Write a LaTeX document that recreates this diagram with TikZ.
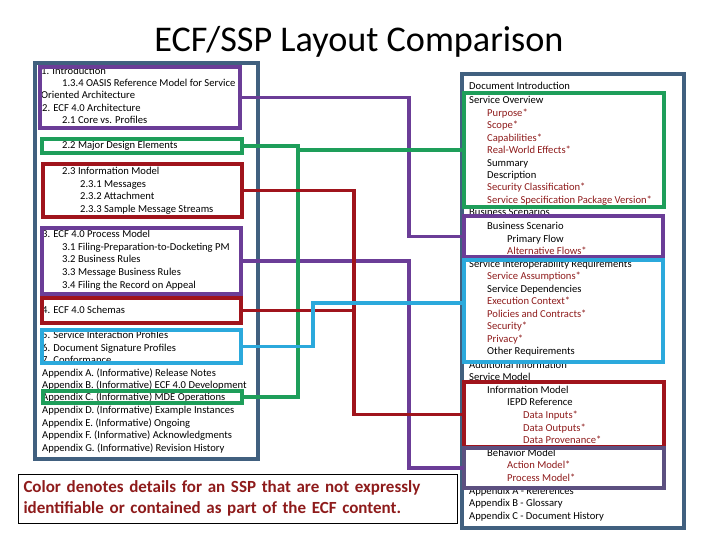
\documentclass[tikz,border=0pt]{standalone}
\usepackage{fontspec}
\setmainfont{Carlito}
\definecolor{slate}{HTML}{41607F}
\definecolor{purp}{HTML}{6B3D97}
\definecolor{grn}{HTML}{1E9E5A}
\definecolor{rd}{HTML}{A0141C}
\definecolor{cyn}{HTML}{2BA9DC}
\definecolor{behav}{HTML}{5C5080}
\definecolor{redtext}{HTML}{8E1B1B}
\tikzset{
  txt/.style={anchor=mid west, inner sep=0pt, font=\fontsize{10.6}{12}\selectfont},
  box/.style={draw=#1, line width=3.1pt, anchor=north west, inner sep=0pt, outer sep=0pt},
  conn/.style={draw=#1, line width=3.1pt},
}
\newcommand{\bx}[6]{\node[box=#2, minimum width={(#5-#3)*1pt}, minimum height={(#6-#4)*1pt}] (#1) at (#3,#4) {};}
\begin{document}
\begin{tikzpicture}[x=1pt,y=-1pt]
\useasboundingbox (0,0) rectangle (720,540);
\node[font=\fontsize{36.2}{42}\selectfont, inner sep=0pt] (title) at (359,42) {ECF/SSP Layout Comparison};
% left texts
\foreach \x/\y/\t [count=\i] in {
 41/72/{1. Introduction},
 62/84/{1.3.4 OASIS Reference Model for Service},
 41/96/{Oriented Architecture},
 42/109/{2. ECF 4.0 Architecture},
 62/121/{2.1 Core vs. Profiles},
 62/146/{2.2 Major Design Elements},
 62/172/{2.3 Information Model},
 80/185/{2.3.1 Messages},
 80/197/{2.3.2 Attachment},
 80/210/{2.3.3 Sample Message Streams},
 42/235/{3. ECF 4.0 Process Model},
 62/248/{3.1 Filing-Preparation-to-Docketing PM},
 62/260/{3.2 Business Rules},
 62/273/{3.3 Message Business Rules},
 62/286/{3.4 Filing the Record on Appeal},
 42/311/{4. ECF 4.0 Schemas},
 42/336/{5. Service Interaction Profiles},
 42/349/{6. Document Signature Profiles},
 42/361/{7. Conformance},
 42/374/{Appendix A. (Informative) Release Notes},
 42/386/{Appendix B. (Informative) ECF 4.0 Development},
 42/398/{Appendix C. (Informative) MDE Operations},
 42/411/{Appendix D. (Informative) Example Instances},
 42/424/{Appendix E. (Informative) Ongoing},
 42/436/{Appendix F. (Informative) Acknowledgments},
 42/449/{Appendix G. (Informative) Revision History}}
 \node[txt] (lt\i) at (\x,\y) {\t};
% right texts
\foreach \x/\y/\c/\t [count=\i] in {
 469/87/black/{Document Introduction},
 469/101/black/{Service Overview},
 487/114/redtext/{Purpose*},
 487/126/redtext/{Scope*},
 487/139/redtext/{Capabilities*},
 487/151/redtext/{Real-World Effects*},
 487/164/black/{Summary},
 487/176/black/{Description},
 487/188/redtext/{Security Classification*},
 487/201/redtext/{Service Specification Package Version*},
 469/213/black/{Business Scenarios},
 487/227/black/{Business Scenario},
 507/240/black/{Primary Flow},
 507/252/redtext/{Alternative Flows*},
 469/265/black/{Service Interoperability Requirements},
 487/277/redtext/{Service Assumptions*},
 487/290/black/{Service Dependencies},
 487/302/redtext/{Execution Context*},
 487/315/redtext/{Policies and Contracts*},
 487/327/redtext/{Security*},
 487/340/redtext/{Privacy*},
 487/352/black/{Other Requirements},
 469/366/black/{Additional Information},
 469/378/black/{Service Model},
 487/391/black/{Information Model},
 507/403/black/{IEPD Reference},
 523/416/redtext/{Data Inputs*},
 523/429/redtext/{Data Outputs*},
 523/441/redtext/{Data Provenance*},
 487/454/black/{Behavior Model},
 507/466/redtext/{Action Model*},
 507/479/redtext/{Process Model*},
 469/492/black/{Appendix A - References},
 469/504/black/{Appendix B - Glossary},
 469/517/black/{Appendix C - Document History}}
 \node[txt, text=\c] (rt\i) at (\x,\y) {\t};
% outer boxes
\bx{LO}{slate}{35}{63}{258}{459}
\bx{RO}{slate}{462}{74}{684}{528}
% left boxes
\bx{L1}{purp}{40}{67}{240}{128}
\bx{L22}{grn}{42}{139}{242}{153}
\bx{L23}{rd}{43}{164}{242}{217}
\bx{L3}{purp}{42}{228}{241}{294}
\bx{L4}{rd}{42}{298}{241}{323}
\bx{L5}{cyn}{42}{330}{241}{363}
\bx{LC}{grn}{43}{391}{242}{403}
% right boxes
\bx{R1}{grn}{464}{93}{664}{207}
\bx{R2}{purp}{464}{216}{663}{257}
\bx{R3}{cyn}{464}{260}{663}{362}
\bx{R4}{rd}{464}{382}{664}{447}
\bx{R5}{behav}{464}{448}{664}{488}
% vertical routing coordinates
\coordinate (pv) at (409,0);
\coordinate (gv) at (298,0);
\coordinate (rv) at (354,0);
\coordinate (cv) at (313,0);
% connectors
\draw[conn=purp] (L1.east) -- (L1.east -| pv) |- (R2.west);
\draw[conn=purp] (L3.east) -- (L3.east -| pv) |- (R5.west);
\draw[conn=grn] (L22.east) -- (L22.east -| gv) -- (gv |- R1.west) -- (R1.west);
\draw[conn=grn] (LC.east) -- (LC.east -| gv) -- (gv |- L22.east);
\draw[conn=rd] (L23.east) -- (L23.east -| rv) |- (R4.west);
\draw[conn=rd] (L4.east) -- (L4.east -| rv);
\draw[conn=cyn] (L5.east) -- (L5.east -| cv) |- ([yshift=8pt]R3.west);
% legend
\node[draw=black, line width=0.8pt, minimum width=439pt, minimum height=49pt, inner sep=0pt,
      text width=428pt, align=left, text=redtext,
      font=\fontsize{17}{21}\selectfont\bfseries] (legend) at (237.5,498.5)
  {Color denotes details for an SSP that are not expressly\\identifiable or contained as part of the ECF content.};
\end{tikzpicture}
\end{document}
